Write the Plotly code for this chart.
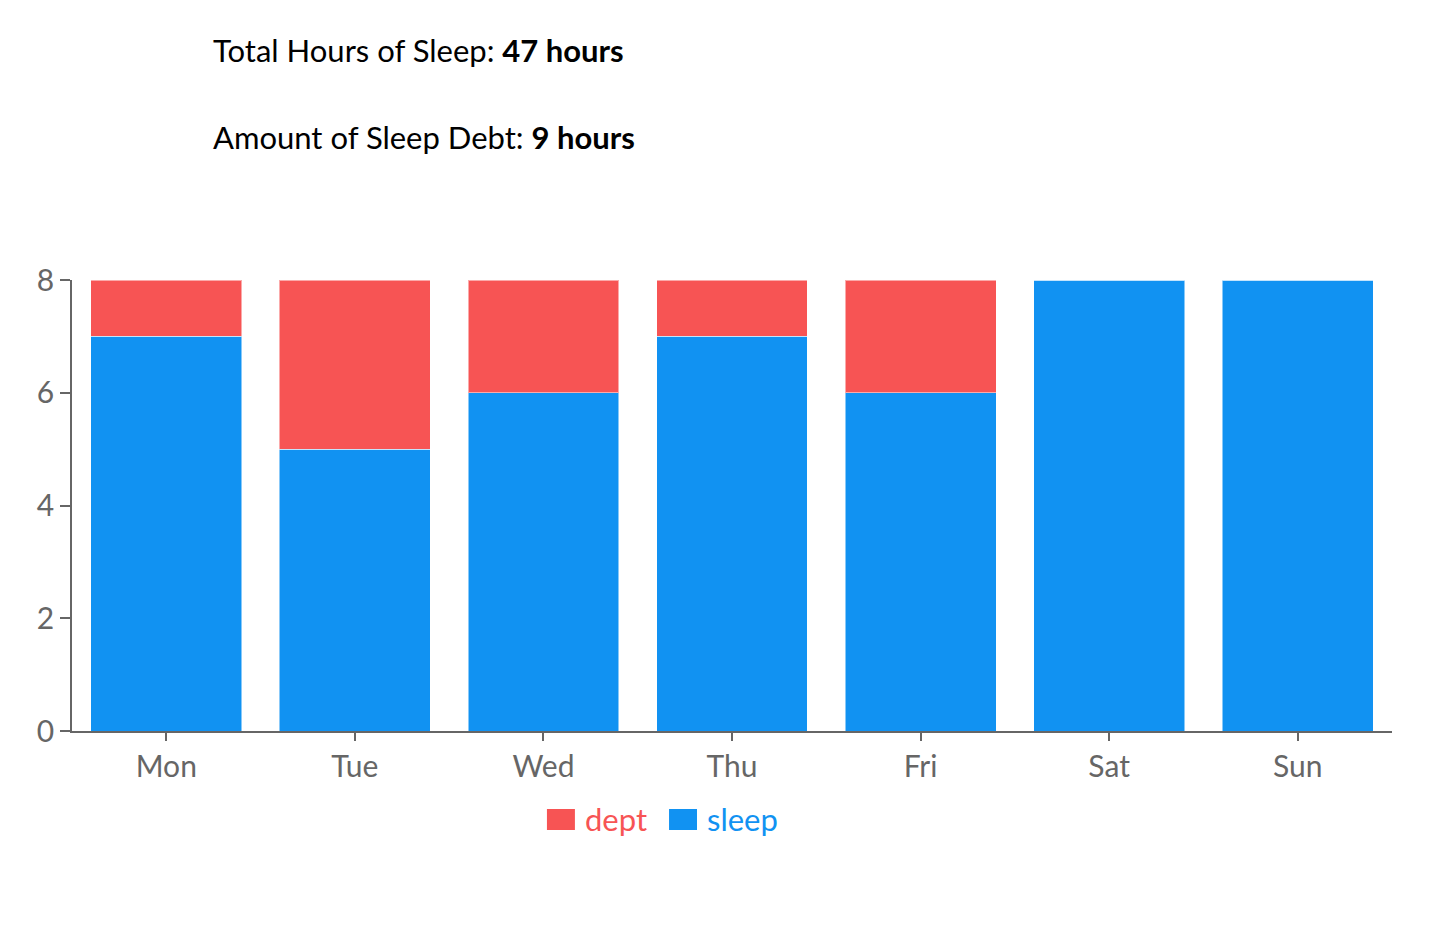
import plotly.graph_objects as go

days = ["Mon", "Tue", "Wed", "Thu", "Fri", "Sat", "Sun"]
sleep = [7, 5, 6, 7, 6, 8, 8]
dept = [1, 3, 2, 1, 2, 0, 0]

total_sleep = sum(sleep)
total_debt = sum(dept)

FONT = "Lato"
GREY = "#666666"
SLEEP_COLOR = "#1192f2"
DEPT_COLOR = "#f75454"

fig = go.Figure()
fig.add_trace(go.Bar(x=days, y=sleep, name="sleep",
                     marker=dict(color=SLEEP_COLOR, line=dict(color="rgba(255,255,255,0.5)", width=1))))
fig.add_trace(go.Bar(x=days, y=dept, name="dept",
                     marker=dict(color=DEPT_COLOR, line=dict(color="rgba(255,255,255,0.5)", width=1))))

# page adds ~8px body margin, so margins are trimmed to compensate
fig.update_layout(
    barmode="stack",
    bargap=0.2,
    width=1440, height=942,
    margin=dict(l=64, r=56, t=272, b=219),
    paper_bgcolor="white", plot_bgcolor="white",
    font=dict(family=FONT, size=30, color=GREY),
    showlegend=False,
)

fig.update_xaxes(showline=True, linecolor=GREY, linewidth=1.5, ticks="outside",
                 tickcolor=GREY, ticklen=8, tickwidth=1.5, showgrid=False,
                 tickfont=dict(size=30, color=GREY))
fig.update_yaxes(showline=True, linecolor=GREY, linewidth=1.5, ticks="outside",
                 tickcolor=GREY, ticklen=10, tickwidth=1.5, showgrid=False, zeroline=False,
                 range=[0, 8], dtick=2, tickfont=dict(size=30, color=GREY))

# header lines
fig.add_annotation(text=f"Total Hours of Sleep: <b>{total_sleep} hours</b>",
                   xref="paper", yref="paper", x=0.105, y=1.51, xanchor="left", yanchor="middle",
                   showarrow=False, font=dict(size=31, color="black", family=FONT))
fig.add_annotation(text=f"Amount of Sleep Debt: <b>{total_debt} hours</b>",
                   xref="paper", yref="paper", x=0.105, y=1.317, xanchor="left", yanchor="middle",
                   showarrow=False, font=dict(size=31, color="black", family=FONT))

# legend with big swatches and coloured labels
legend_items = [("dept", DEPT_COLOR, 0.3598), ("sleep", SLEEP_COLOR, 0.4523)]
for name, color, x0 in legend_items:
    fig.add_shape(type="rect", xref="paper", yref="paper",
                  x0=x0, x1=x0 + 0.0212, y0=-0.1729, y1=-0.2195,
                  fillcolor=color, line=dict(width=0))
    fig.add_annotation(text=name, xref="paper", yref="paper",
                       x=x0 + 0.0273, y=-0.1962, xanchor="left", yanchor="middle",
                       showarrow=False, font=dict(size=31, color=color, family=FONT))

fig.write_html("out.html")
